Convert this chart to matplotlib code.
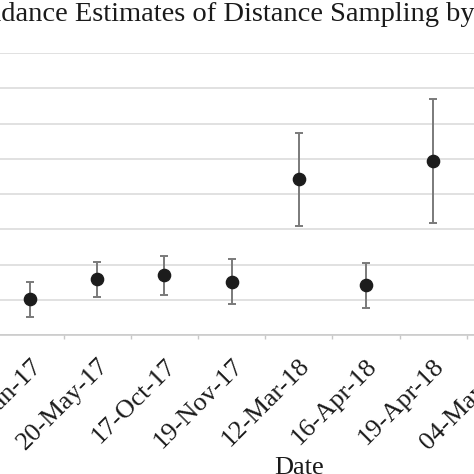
import matplotlib
import matplotlib.pyplot as plt
from matplotlib.ticker import FixedLocator

matplotlib.use("Agg")

plt.rcParams["font.family"] = ["Liberation Serif", "DejaVu Serif"]

# values (one gridline step = 1 unit)
dates = ["12-Jan-17", "20-May-17", "17-Oct-17", "19-Nov-17", "12-Mar-18",
         "16-Apr-18", "19-Apr-18", "04-May-18", "18-May-18"]
estimate = [1.01, 1.58, 1.69, 1.51, 4.42, 1.42, 4.94, 2.10, 1.80]
upper = [1.50, 2.06, 2.25, 2.16, 5.72, 2.04, 6.69, 2.90, 2.50]
lower = [0.52, 1.08, 1.13, 0.87, 3.09, 0.77, 3.19, 1.40, 1.20]
y_ticks = [0, 1, 2, 3, 4, 5, 6, 7, 8]

fig = plt.figure(figsize=(4.74, 4.74), dpi=100)
# the reference is a crop of a wider chart, so the axes run past the figure edges
ax = fig.add_axes([-0.0076, 0.2932, 1.276, 0.595])

x = list(range(len(dates)))
err = [[e - lo for e, lo in zip(estimate, lower)],
       [up - e for e, up in zip(estimate, upper)]]
ax.errorbar(x, estimate, yerr=err, fmt="o", color="#1c1c1c", markersize=8.8,
            ecolor="#7a7a7a", elinewidth=1.4, capsize=3, capthick=1.4, zorder=3)

ax.set_xlim(-0.5, len(dates) - 0.5)
ax.set_ylim(0, 8)
ax.set_yticks(y_ticks)
ax.tick_params(axis="y", length=0, labelsize=16)
ax.grid(axis="y", color="#d9d9d9", linewidth=1.1)
ax.set_axisbelow(True)

ax.set_xticks(x)
ax.set_xticklabels(dates, rotation=45, ha="right", rotation_mode="anchor",
                   fontsize=19, color="#1a1a1a")
ax.tick_params(axis="x", which="major", length=0, pad=14)
ax.xaxis.set_minor_locator(FixedLocator([i + 0.5 for i in x]))
ax.tick_params(axis="x", which="minor", length=3, width=1, color="#c8c8c8", direction="out")

for side in ["top", "right", "left"]:
    ax.spines[side].set_visible(False)
ax.spines["bottom"].set_color("#c8c8c8")
ax.spines["bottom"].set_linewidth(1.1)

ax.set_xlabel("Date", fontsize=19, color="#1a1a1a", labelpad=2)

# title: place so that the visible part starts at the left edge like the crop
renderer = fig.canvas.get_renderer()
probe = fig.text(0, 0, "Abun", fontsize=20.5)
shift = probe.get_window_extent(renderer).width / (4.74 * 100)
probe.remove()
fig.text(-shift + 0.002, 0.9557, "Abundance Estimates of Distance Sampling by Date",
         fontsize=20.5, color="#1a1a1a", ha="left", va="baseline")

fig.savefig("out.png", dpi=100)
plt.close(fig)
